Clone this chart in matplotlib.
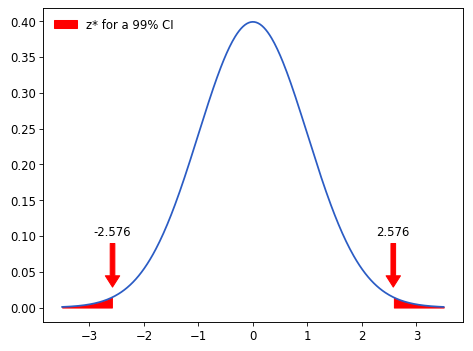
import numpy as np
import matplotlib
matplotlib.use("Agg")
import matplotlib.pyplot as plt

# x range of the curve and the 99% critical value
x_min, x_max = -3.5, 3.5
z_crit = 2.576
label_y = 0.1
tip_y = 0.025

x = np.linspace(x_min, x_max, 400)
y = np.exp(-x ** 2 / 2) / np.sqrt(2 * np.pi)

plt.rcParams['font.size'] = 11.3
plt.rcParams['lines.linewidth'] = 1.7
plt.rcParams['axes.linewidth'] = 0.9

fig, ax = plt.subplots(figsize=(6.4, 4.75), dpi=74)
fig.subplots_adjust(left=0.091, right=0.977, top=0.977, bottom=0.083)

ax.plot(x, y, color='#2b5cc4')
ax.fill_between(x, y, where=x <= -z_crit, color='red', label='z* for a 99% CI')
ax.fill_between(x, y, where=x >= z_crit, color='red')

for z in (-z_crit, z_crit):
    ax.annotate(f'{z:.3f}', xy=(z, tip_y), xytext=(z, label_y),
                ha='center',
                arrowprops=dict(facecolor='red', edgecolor='red', shrink=0.05,
                                width=4.5, headwidth=14, headlength=11))

ax.legend(loc='upper left', frameon=False)
plt.savefig('out.png')
